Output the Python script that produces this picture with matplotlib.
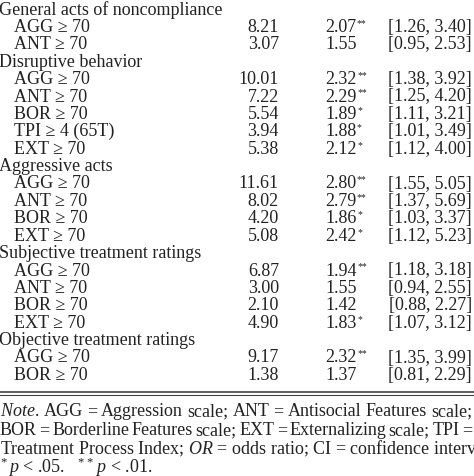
import matplotlib.pyplot as plt

rows = [
    ("General acts of noncompliance", None, None, None),
    ("AGG ≥ 70", "8.21", "2.07**", "[1.26, 3.40]"),
    ("ANT ≥ 70", "3.07", "1.55", "[0.95, 2.53]"),
    ("Disruptive behavior", None, None, None),
    ("AGG ≥ 70", "10.01", "2.32**", "[1.38, 3.92]"),
    ("ANT ≥ 70", "7.22", "2.29**", "[1.25, 4.20]"),
    ("BOR ≥ 70", "5.54", "1.89*", "[1.11, 3.21]"),
    ("TPI ≥ 4 (65T)", "3.94", "1.88*", "[1.01, 3.49]"),
    ("EXT ≥ 70", "5.38", "2.12*", "[1.12, 4.00]"),
    ("Aggressive acts", None, None, None),
    ("AGG ≥ 70", "11.61", "2.80**", "[1.55, 5.05]"),
    ("ANT ≥ 70", "8.02", "2.79**", "[1.37, 5.69]"),
    ("BOR ≥ 70", "4.20", "1.86*", "[1.03, 3.37]"),
    ("EXT ≥ 70", "5.08", "2.42*", "[1.12, 5.23]"),
    ("Subjective treatment ratings", None, None, None),
    ("AGG ≥ 70", "6.87", "1.94**", "[1.18, 3.18]"),
    ("ANT ≥ 70", "3.00", "1.55", "[0.94, 2.55]"),
    ("BOR ≥ 70", "2.10", "1.42", "[0.88, 2.27]"),
    ("EXT ≥ 70", "4.90", "1.83*", "[1.07, 3.12]"),
    ("Objective treatment ratings", None, None, None),
    ("AGG ≥ 70", "9.17", "2.32**", "[1.35, 3.99]"),
    ("BOR ≥ 70", "1.38", "1.37", "[0.81, 2.29]"),
]

# note lines as word lists, justified across the width
notes = [
    [r"$\it{Note.}$", "AGG", "=", "Aggression", "scale;", "ANT", "=", "Antisocial", "Features", "scale;"],
    ["BOR", "=", "Borderline", "Features", "scale;", "EXT", "=", "Externalizing", "scale;", "TPI", "="],
    [r"Treatment Process Index; $\it{OR}$ = odds ratio; CI = confidence interval."],
    [r"$^{*}\,\it{p}$ < .05.   $^{**}\,\it{p}$ < .01."],
]

plt.rcParams['font.family'] = 'Liberation Serif'
plt.rcParams['mathtext.fontset'] = 'custom'
plt.rcParams['mathtext.it'] = 'Liberation Serif:italic'
plt.rcParams['mathtext.rm'] = 'Liberation Serif'

fig = plt.figure(figsize=(4.74, 4.76), dpi=100)
ax = fig.add_axes([0, 0, 1, 1])
ax.set_xlim(0, 474)
ax.set_ylim(476, 0)
ax.axis('off')

fs = 13
c = '#222222'
for i, (lab, v1, v2, ci) in enumerate(rows):
    y = 10 + i * 17.4
    if v1 is None:
        ax.text(-1, y, lab, fontsize=fs, va='center', color=c)
        continue
    ax.text(14, y, lab, fontsize=fs, va='center', color=c)
    ax.text(279, y, v1, fontsize=fs, va='center', ha='right', color=c)
    stars = v2.count('*')
    base = v2.rstrip('*')
    t = ax.text(325, y, base, fontsize=fs, va='center', color=c)
    if stars:
        ax.annotate('*' * stars, xy=(1, 1), xycoords=t, fontsize=7, va='top', color=c,
                    xytext=(0.5, 0), textcoords='offset points')
    ax.text(472, y, ci, fontsize=fs, va='center', ha='right', color=c)

ax.plot([0, 474], [392, 392], color='#444444', lw=1.2)
ax.plot([0, 474], [394.5, 394.5], color='#444444', lw=0.8)

fig.canvas.draw()
r = fig.canvas.get_renderer()
for j, words in enumerate(notes):
    y = 412 + j * 18.5
    if len(words) == 1:
        ax.text(0, y, words[0], fontsize=fs, va='center', color=c)
        continue
    ts = [ax.text(0, y, w, fontsize=fs, va='center', color=c) for w in words]
    widths = [t.get_window_extent(r).width for t in ts]
    gap = (472 - sum(widths)) / (len(words) - 1)
    x = 0
    for t, w in zip(ts, widths):
        t.set_x(x)
        x += w + gap

fig.savefig('out.png', dpi=100)
